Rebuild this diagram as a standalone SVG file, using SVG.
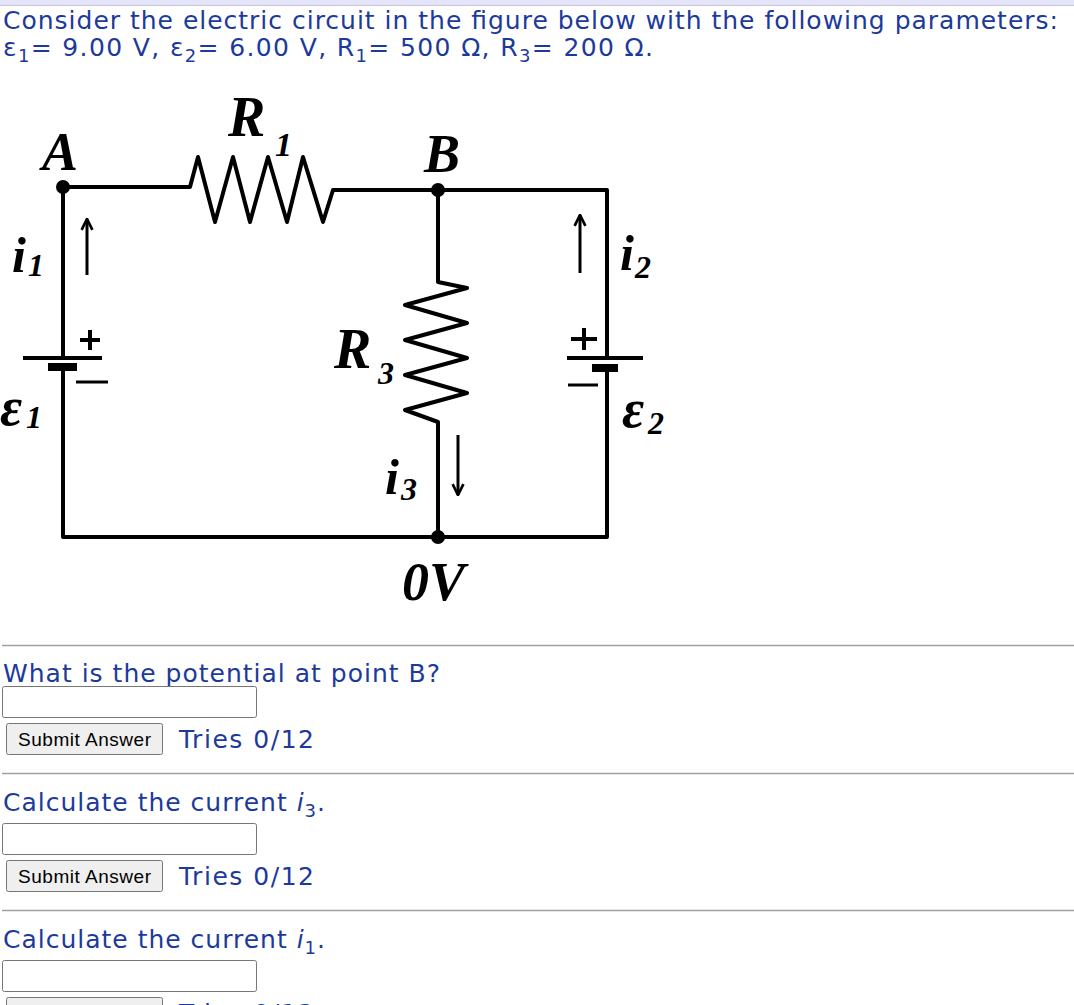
<svg xmlns="http://www.w3.org/2000/svg" width="1074" height="1005" viewBox="0 0 1074 1005">
<style>
.t{font-family:"DejaVu Sans",Verdana,sans-serif;fill:#1c3a9c;font-size:25px}
.w{fill:none;stroke:#000;stroke-width:4;stroke-linejoin:round}
.a{fill:none;stroke:#000;stroke-width:3}
.L{font-family:"Liberation Serif",serif;font-weight:bold;font-style:italic;fill:#000}
.btn{fill:#efefef;stroke:#767676;stroke-width:1}
.btx{font-family:"Liberation Sans",Arial,sans-serif;font-size:19px;fill:#000}
.box{fill:#fff;stroke:#767676;stroke-width:1}
.hr{stroke:#a0a0a0;stroke-width:1.5}
</style>
<defs><marker id="ah" viewBox="0 0 10 10" refX="9" refY="5" markerWidth="4.5" markerHeight="4.5" orient="auto"><path d="M1,1 L9,5 L1,9" fill="none" stroke="#000" stroke-width="2"/></marker></defs>
<rect width="1074" height="1005" fill="#fff"/>
<rect x="0" y="0" width="1074" height="5" fill="#e4e4fa"/>
<line x1="0" y1="5.5" x2="1074" y2="5.5" stroke="#c8c8d8"/>
<text class="t" x="3" y="29" textLength="1055">Consider the electric circuit in the figure below with the following parameters:</text>
<text class="t" x="3" y="56" textLength="650">ε<tspan font-size="18" dy="6">1</tspan><tspan dy="-6">= 9.00 V, ε</tspan><tspan font-size="18" dy="6">2</tspan><tspan dy="-6">= 6.00 V, R</tspan><tspan font-size="18" dy="6">1</tspan><tspan dy="-6">= 500 Ω, R</tspan><tspan font-size="18" dy="6">3</tspan><tspan dy="-6">= 200 Ω.</tspan></text>
<g id="connectors">
<path class="w" d="M63,187 L190,187 L198,157 L215,222 L233,157 L250,222 L268,157 L287,222 L303,157 L323,222 L333,190 L607,190 L607,358"/>
<path class="w" d="M607,368 L607,537 L63,537 L63,368"/>
<path class="w" d="M63,358 L63,187"/>
<path class="w" d="M438,190 L438,282 L467,288 L405,305 L467,323 L405,340 L467,358 L405,375 L467,393 L405,410 L438,422 L438,537"/>
</g>
<g id="battery1">
<line x1="23" y1="358" x2="102" y2="358" stroke="#000" stroke-width="4"/>
<line x1="48" y1="367" x2="77" y2="367" stroke="#000" stroke-width="8"/>
<line x1="80" y1="340" x2="100" y2="340" stroke="#000" stroke-width="4"/><line x1="90" y1="330" x2="90" y2="350" stroke="#000" stroke-width="4"/>
<line x1="76" y1="382" x2="108" y2="382" stroke="#000" stroke-width="3"/>
</g>
<g id="battery2">
<line x1="567" y1="358" x2="643" y2="358" stroke="#000" stroke-width="4"/>
<line x1="592" y1="368" x2="618" y2="368" stroke="#000" stroke-width="8"/>
<line x1="571" y1="339" x2="597" y2="339" stroke="#000" stroke-width="4"/><line x1="584" y1="328" x2="584" y2="350" stroke="#000" stroke-width="4"/>
<line x1="568" y1="385" x2="598" y2="385" stroke="#000" stroke-width="3"/>
</g>
<g id="nodes">
<circle cx="63" cy="187" r="7"/><circle cx="438" cy="190" r="7"/><circle cx="438" cy="537" r="7"/>
</g>
<g id="arrows">
<line class="a" x1="87" y1="275" x2="87" y2="219" marker-end="url(#ah)"/>
<line class="a" x1="580" y1="273" x2="580" y2="215" marker-end="url(#ah)"/>
<line class="a" x1="458" y1="435" x2="458" y2="495" marker-end="url(#ah)"/>
</g>
<g id="labels">
<text class="L" x="42" y="170" font-size="54">A</text>
<text class="L" x="228" y="136" font-size="56">R</text><text class="L" x="275" y="156" font-size="34">1</text>
<text class="L" x="424" y="172" font-size="54">B</text>
<text class="L" x="12" y="272" font-size="50">i</text><text class="L" x="28" y="276" font-size="32">1</text>
<text class="L" x="620" y="270" font-size="50">i</text><text class="L" x="635" y="278" font-size="32">2</text>
<text class="L" x="334" y="368" font-size="56">R</text><text class="L" x="378" y="384" font-size="32">3</text>
<text class="L" x="385" y="494" font-size="50">i</text><text class="L" x="401" y="500" font-size="32">3</text>
<text class="L" x="0" y="425" font-size="54">ε</text><text class="L" x="26" y="428" font-size="32">1</text>
<text class="L" x="622" y="427" font-size="54">ε</text><text class="L" x="648" y="434" font-size="32">2</text>
<text class="L" x="402" y="600" font-size="54">0V</text>
</g>
<line class="hr" x1="2" y1="645.5" x2="1074" y2="645.5"/>
<text class="t" x="3" y="682" textLength="437">What is the potential at point B?</text>
<rect class="box" x="2.5" y="686.5" width="254" height="31" rx="2"/>
<rect class="btn" x="6.5" y="723.5" width="156" height="31" rx="2"/><text class="btx" x="18" y="746" textLength="133">Submit Answer</text>
<text class="t" x="179" y="748" textLength="135">Tries 0/12</text>
<line class="hr" x1="2" y1="773.5" x2="1074" y2="773.5"/>
<text class="t" x="3" y="811" textLength="322">Calculate the current <tspan font-style="italic">i</tspan><tspan font-size="18" dy="6">3</tspan><tspan dy="-6">.</tspan></text>
<rect class="box" x="2.5" y="823.5" width="254" height="31" rx="2"/>
<rect class="btn" x="6.5" y="860.5" width="156" height="31" rx="2"/><text class="btx" x="18" y="883" textLength="133">Submit Answer</text>
<text class="t" x="179" y="885" textLength="135">Tries 0/12</text>
<line class="hr" x1="2" y1="910.5" x2="1074" y2="910.5"/>
<text class="t" x="3" y="948" textLength="322">Calculate the current <tspan font-style="italic">i</tspan><tspan font-size="18" dy="6">1</tspan><tspan dy="-6">.</tspan></text>
<rect class="box" x="2.5" y="960.5" width="254" height="31" rx="2"/>
<rect class="btn" x="6.5" y="997.5" width="156" height="31" rx="2"/><text class="btx" x="18" y="1020" textLength="133">Submit Answer</text>
<text class="t" x="179" y="1022" textLength="135">Tries 0/12</text>
</svg>
